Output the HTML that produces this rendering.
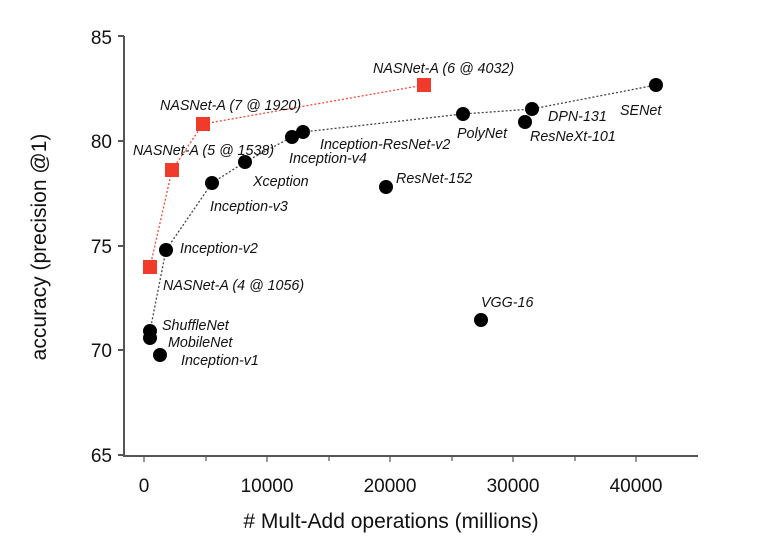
<!DOCTYPE html>
<html><head><style>body{margin:0;background:#fff}svg{display:block}</style></head><body>
<svg width="759" height="538" xmlns="http://www.w3.org/2000/svg" font-family="Liberation Sans, sans-serif">
<g stroke="#555" stroke-width="2">
<line x1="124" y1="36" x2="124" y2="456"/>
<line x1="123" y1="456" x2="698" y2="456"/>
<line x1="118" y1="36" x2="124" y2="36"/><line x1="118" y1="141" x2="124" y2="141"/><line x1="118" y1="246" x2="124" y2="246"/><line x1="118" y1="350" x2="124" y2="350"/><line x1="118" y1="455" x2="124" y2="455"/>
</g>
<g stroke="#555" stroke-width="1.2">
<line x1="144" y1="456" x2="144" y2="462"/><line x1="206" y1="456" x2="206" y2="461"/><line x1="267" y1="456" x2="267" y2="462"/><line x1="329" y1="456" x2="329" y2="461"/><line x1="390" y1="456" x2="390" y2="462"/><line x1="452" y1="456" x2="452" y2="461"/><line x1="513" y1="456" x2="513" y2="462"/><line x1="575" y1="456" x2="575" y2="461"/><line x1="636" y1="456" x2="636" y2="462"/>
</g>
<g font-size="19" fill="#111" text-anchor="end">
<text x="112" y="44">85</text><text x="112" y="148">80</text><text x="112" y="253">75</text><text x="112" y="357">70</text><text x="112" y="462">65</text>
</g>
<g font-size="19" fill="#111" text-anchor="middle">
<text x="144" y="492">0</text><text x="267" y="492">10000</text><text x="390" y="492">20000</text><text x="513" y="492">30000</text><text x="636" y="492">40000</text>
</g>
<g font-size="21" fill="#111" text-anchor="middle">
<text x="391" y="528">#  Mult-Add operations (millions)</text>
<text transform="translate(46,247) rotate(-90)">accuracy (precision @1)</text>
</g>
<polyline points="150,267 172,170 203,124 424,85" fill="none" stroke="#f04a3a" stroke-width="1.3" stroke-dasharray="2,2"/>
<polyline points="150,331 166,250 212,183 245,162 292,137 303,132 463,114 532,109 656,85" fill="none" stroke="#444" stroke-width="1.3" stroke-dasharray="2,2"/>
<g fill="#f03a2a">
<rect x="143" y="260" width="14" height="14"/><rect x="165" y="163" width="14" height="14"/><rect x="196" y="117" width="14" height="14"/><rect x="417" y="78" width="14" height="14"/>
</g>
<g fill="#000">
<circle cx="150" cy="338" r="7"/><circle cx="150" cy="331" r="7"/><circle cx="160" cy="355" r="7"/><circle cx="166" cy="250" r="7"/><circle cx="212" cy="183" r="7"/><circle cx="245" cy="162" r="7"/><circle cx="292" cy="137" r="7"/><circle cx="303" cy="132" r="7"/><circle cx="463" cy="114" r="7"/><circle cx="532" cy="109" r="7"/><circle cx="525" cy="122" r="7"/><circle cx="656" cy="85" r="7"/><circle cx="386" cy="187" r="7"/><circle cx="481" cy="320" r="7"/>
</g>
<g font-size="14.3" font-style="italic" fill="#111">
<text x="373" y="73">NASNet-A (6 @ 4032)</text>
<text x="160" y="110">NASNet-A (7 @ 1920)</text>
<text x="133" y="155">NASNet-A (5 @ 1538)</text>
<text x="320" y="149">Inception-ResNet-v2</text>
<text x="289" y="163">Inception-v4</text>
<text x="253" y="186">Xception</text>
<text x="210" y="211">Inception-v3</text>
<text x="457" y="138">PolyNet</text>
<text x="530" y="141">ResNeXt-101</text>
<text x="548" y="121">DPN-131</text>
<text x="620" y="115">SENet</text>
<text x="396" y="183">ResNet-152</text>
<text x="180" y="253">Inception-v2</text>
<text x="163" y="290">NASNet-A (4 @ 1056)</text>
<text x="481" y="307">VGG-16</text>
<text x="162" y="330">ShuffleNet</text>
<text x="168" y="347">MobileNet</text>
<text x="181" y="365">Inception-v1</text>
</g>
</svg>
</body></html>
